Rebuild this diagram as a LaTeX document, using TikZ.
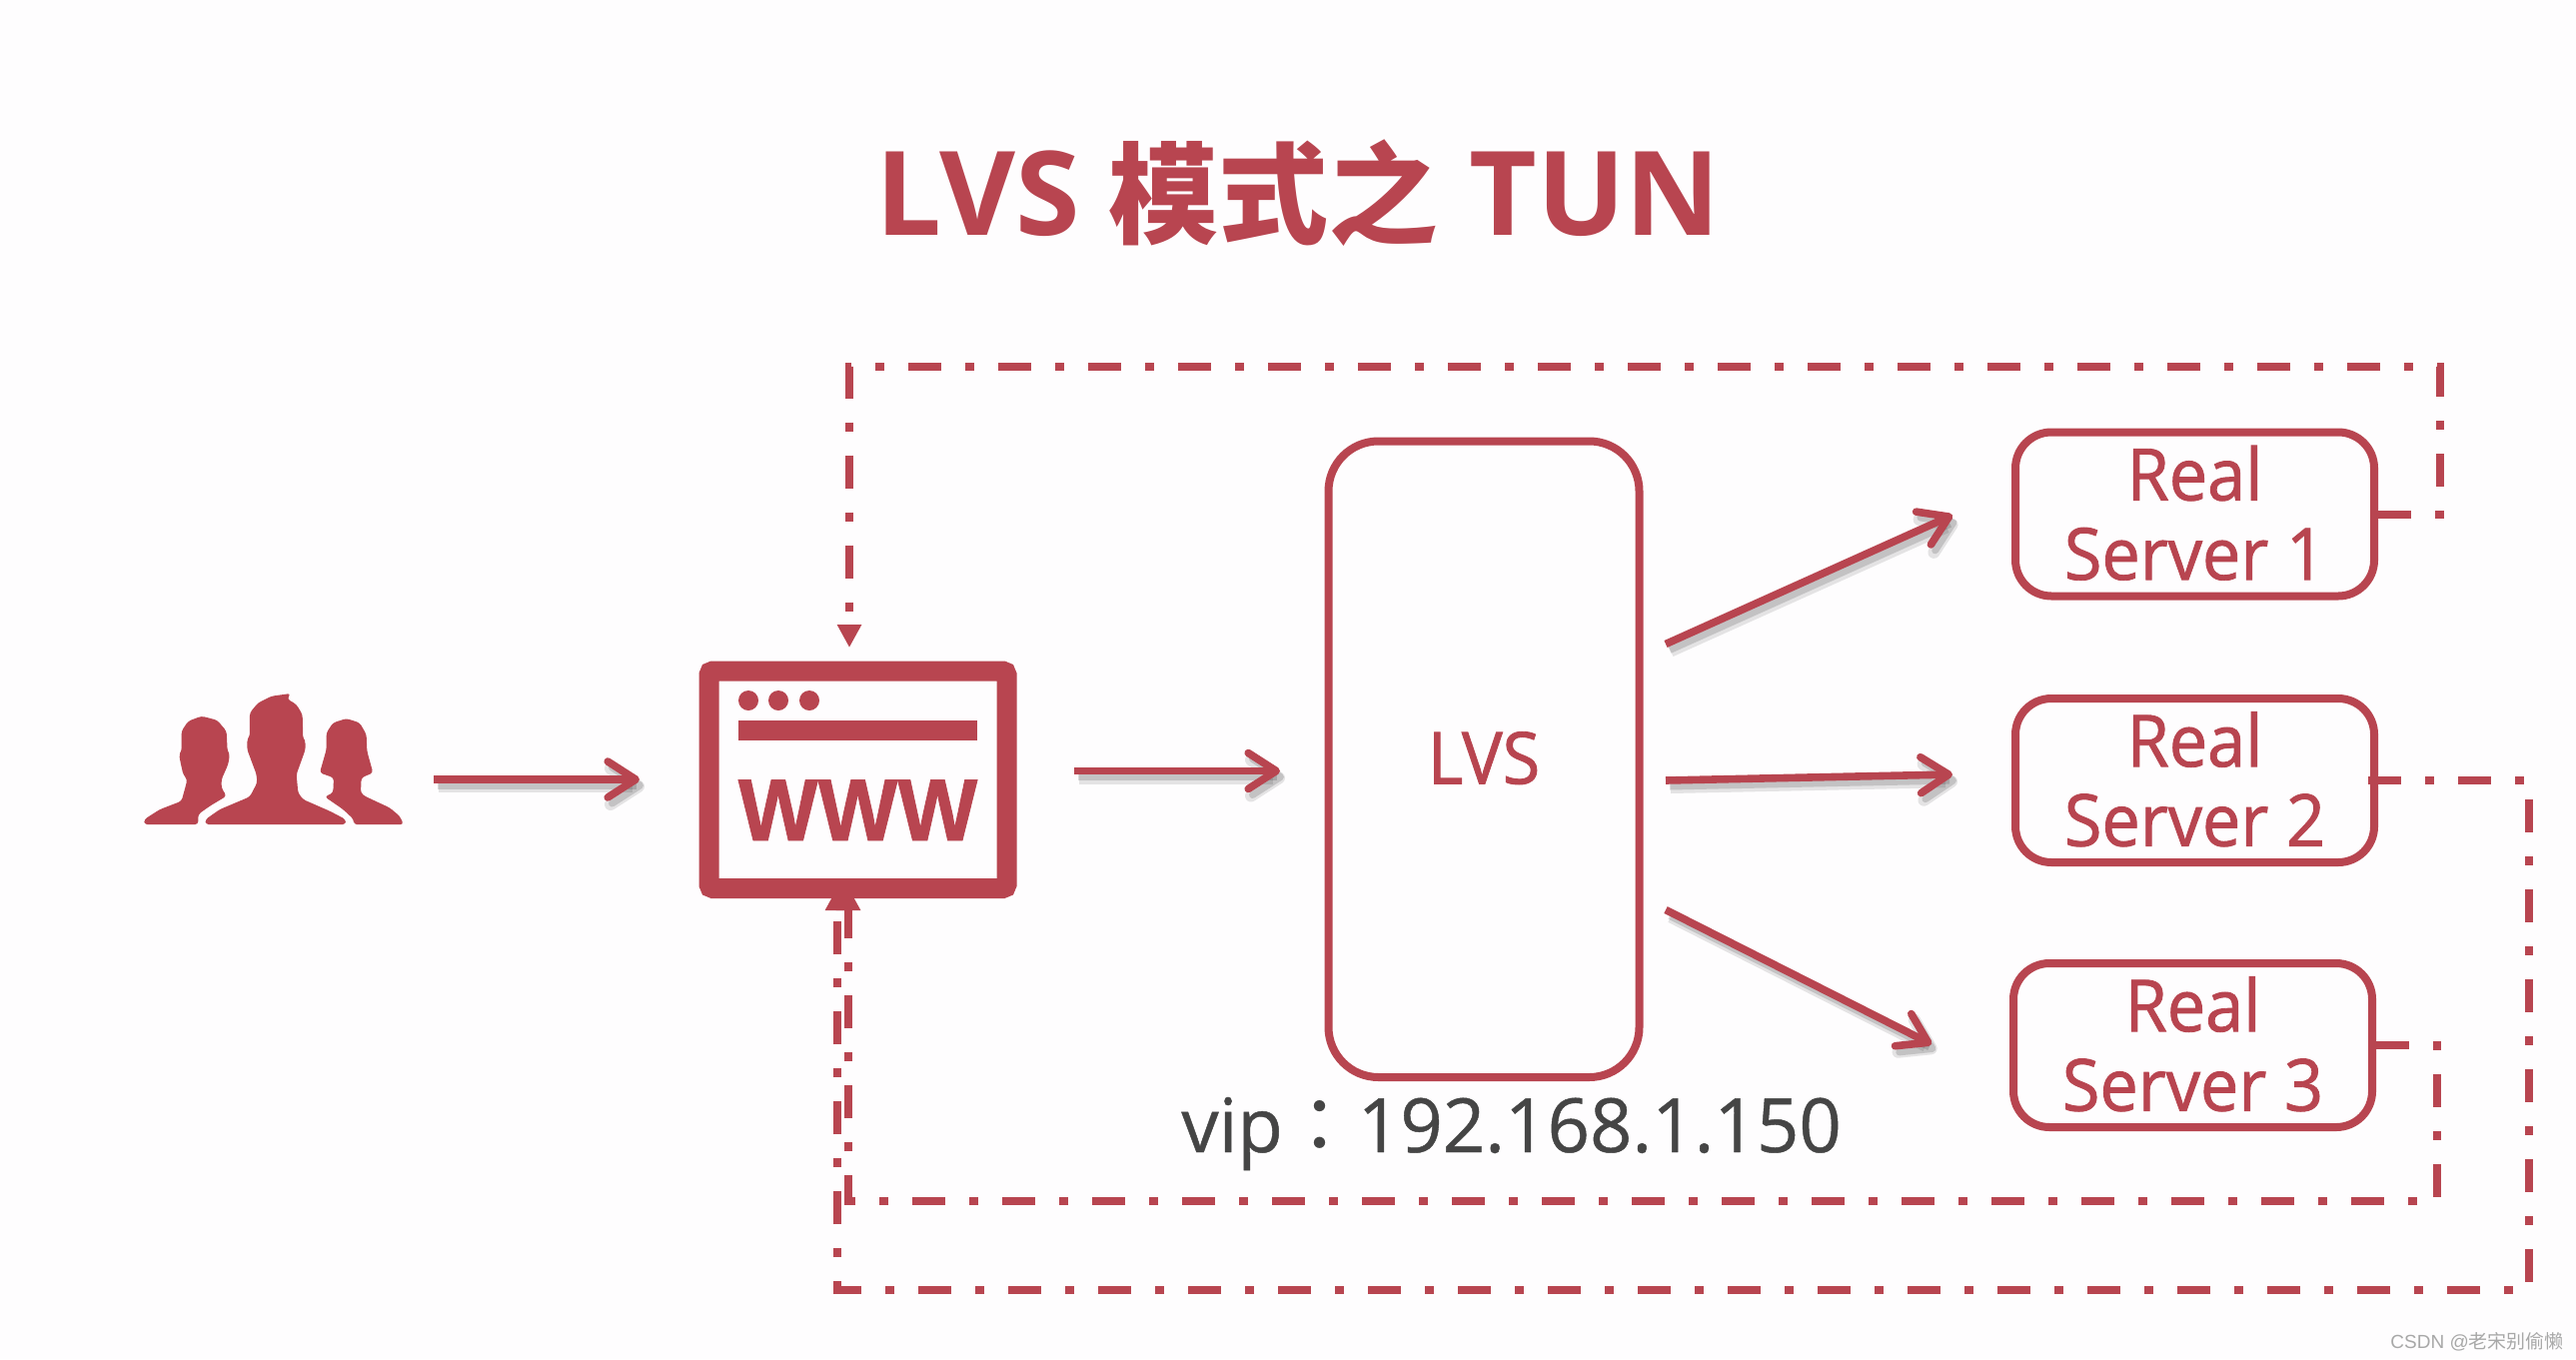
\documentclass[tikz,border=0pt]{standalone}
\usepackage{fontspec}
\usetikzlibrary{arrows.meta}
\setmainfont{Open Sans}
\newfontfamily\labfont[FakeStretch=0.95,FakeBold=1.2]{Open Sans}
\newfontfamily\vipfont[FakeStretch=0.99,FakeBold=0.6]{Open Sans}
\newfontfamily\cjk{Noto Sans CJK SC}
\newfontfamily\cjktc{Noto Sans CJK TC}
\newfontfamily\wmfont{Liberation Sans}
\newfontfamily\wwwfont[FakeStretch=0.96,FakeBold=1]{Liberation Sans}
\definecolor{redc}{HTML}{B84550}
\definecolor{greyc}{HTML}{454545}
\definecolor{wmc}{HTML}{A8A8A8}
\definecolor{bgc}{HTML}{FEFDFE}
\newcommand{\upby}[1]{\raisebox{1.5pt}{#1}}
\tikzset{
  rsbox/.style={draw=redc,line width=4pt,rounded corners=18pt,minimum width=179.5pt,minimum height=82pt,inner sep=0pt,align=center,text=redc,font=\labfont\fontsize{36}{39.75}\selectfont},
  lvsbox/.style={draw=redc,line width=4pt,rounded corners=25pt,minimum width=155.5pt,minimum height=318.25pt,inner sep=0pt,text=redc,font=\labfont\fontsize{36}{40}\selectfont},
  webbox/.style={draw=redc,line width=10pt,rounded corners=2pt,minimum width=149pt,minimum height=108.75pt,inner sep=0pt},
  flowarrow/.style={draw=redc,line width=3.8pt,-{Straight Barb[round,length=14pt,width=18pt]},
    preaction={draw=black,opacity=.10,line width=6pt,transform canvas={xshift=2.5pt,yshift=-3.5pt}},
    preaction={draw=black,opacity=.14,line width=3.5pt,transform canvas={xshift=2pt,yshift=-3pt}}},
  returnline/.style={draw=redc,line width=4pt,dash pattern=on 16.5pt off 12pt on 4.5pt off 12pt,-{Triangle[length=11.5pt,width=11.5pt]}},
  iconfill/.style={fill=redc,draw=none,rounded corners=1.5pt},
}
\begin{document}
\begin{tikzpicture}[x=0.5pt,y=-0.5pt]
\useasboundingbox (0,0) rectangle (2578,1360);
\fill[bgc] (0,0) rectangle (2578,1360);

% title
\node[anchor=base west,inner sep=0pt,text=redc,font=\fontsize{58.5}{60}\selectfont\bfseries] (title) at (876,235) {LVS\hspace{14.5pt}{\cjk\fontsize{55}{60}\selectfont 模式之}\hspace{15.5pt}TUN};

% users icon
\node[minimum width=129.5pt,minimum height=65.5pt,inner sep=0pt] (users) at (274.5,760) {};
\begin{scope}[shift={(130,680)},x=0.5pt/3,y=-0.5pt/3]
\fill[iconfill] (43,435) -- (43,420) -- (90,390) -- (155,365) -- (170,310) -- (172,300) -- (160,285) -- (150,240) -- (148,225) -- (155,215) -- (155,155) -- (175,125) -- (215,110) -- (262,122) -- (290,155) -- (293,215) -- (300,225) -- (295,255) -- (275,300) -- (275,325) -- (290,350) -- (240,380) -- (205,405) -- (205,435) -- cycle;
\fill[iconfill] (227,435) -- (227,420) -- (270,390) -- (360,352) -- (382,310) -- (380,285) -- (352,210) -- (352,180) -- (360,170) -- (360,100) -- (385,70) -- (425,50) -- (483,42) -- (472,58) -- (500,75) -- (518,105) -- (520,178) -- (527,185) -- (527,210) -- (500,285) -- (505,340) -- (520,360) -- (600,395) -- (648,420) -- (648,435) -- cycle;
\fill[iconfill] (672,435) -- (672,420) -- (640,390) -- (585,352) -- (610,340) -- (612,295) -- (570,280) -- (590,210) -- (590,160) -- (610,130) -- (650,117) -- (690,130) -- (710,165) -- (712,215) -- (730,280) -- (695,295) -- (693,340) -- (705,350) -- (780,385) -- (810,410) -- (822,435) -- cycle;
\end{scope}

% LVS and servers
\node[lvsbox] (lvs) at (1485,759.75) {\upby{LVS}};
\node[rsbox] (rs1) at (2196.5,514.5) {\upby{Real}\\\upby{Server 1}};
\node[rsbox] (rs2) at (2196.5,781) {\upby{Real}\\\upby{Server 2}};
\node[rsbox] (rs3) at (2194.5,1046) {\upby{Real}\\\upby{Server 3}};

\node[anchor=base west,inner sep=0pt,text=greyc,font=\vipfont\fontsize{37.5}{40}\selectfont] (vip) at (1182,1153) {vip{\cjktc ：}192.168.1.150};

% coordinates
\coordinate (u0) at (434,780);   \coordinate (u1) at (640,780);
\coordinate (w0) at (1075,771.5);\coordinate (w1) at (1281,771.5);
\coordinate (l1a) at (1667,644.5);\coordinate (l1b) at (1954,515.5);
\coordinate (l2a) at (1667,781);  \coordinate (l2b) at (1954,775);
\coordinate (l3a) at (1667,910.5);\coordinate (l3b) at (1933,1045);
\coordinate (topin) at (850,648);
\coordinate (botA) at (838,888);
\coordinate (botB) at (849,888);
\coordinate (c1a) at (2442,514.5); \coordinate (c1b) at (2442,367); \coordinate (c1c) at (850,367);
\coordinate (c2a) at (2531,781);   \coordinate (c2b) at (2531,1291); \coordinate (c2c) at (838,1291);
\coordinate (c3a) at (2439,1046);  \coordinate (c3b) at (2439,1202); \coordinate (c3c) at (849,1202);

% flow arrows
\draw[flowarrow] (u0) -- (u1);
\draw[flowarrow] (w0) -- (w1);
\draw[flowarrow] (l1a) -- (l1b);
\draw[flowarrow] (l2a) -- (l2b);
\draw[flowarrow] (l3a) -- (l3b);

% return paths
\draw[returnline] (rs1.east) -- (c1a) -- (c1b) -- (c1c) -- (topin);
\draw[returnline,shorten <=-5pt] (rs2.east) -- (c2a) -- (c2b) -- (c2c) -- (botA);
\draw[returnline] (rs3.east) -- (c3a) -- (c3b) -- (c3c) -- (botB);

% browser icon, over the return arrow tips
\node[webbox] (web) at (858.5,780.25) {};
\fill[redc] (739,721) rectangle (978,741);
\foreach \cx in {749,779,810} \fill[redc] (\cx,701) circle (5pt);
\node[anchor=base,inner sep=0pt,text=redc,font=\wwwfont\fontsize{44}{46}\selectfont\bfseries] (wwwtext) at (858.5,841) {WWW};

% watermark
\node[anchor=base west,inner sep=0pt,text=wmc,font=\wmfont\fontsize{9.5}{12}\selectfont] (wm) at (2392,1349) {CSDN @{\cjk 老宋别偷懒}};
\end{tikzpicture}
\end{document}
